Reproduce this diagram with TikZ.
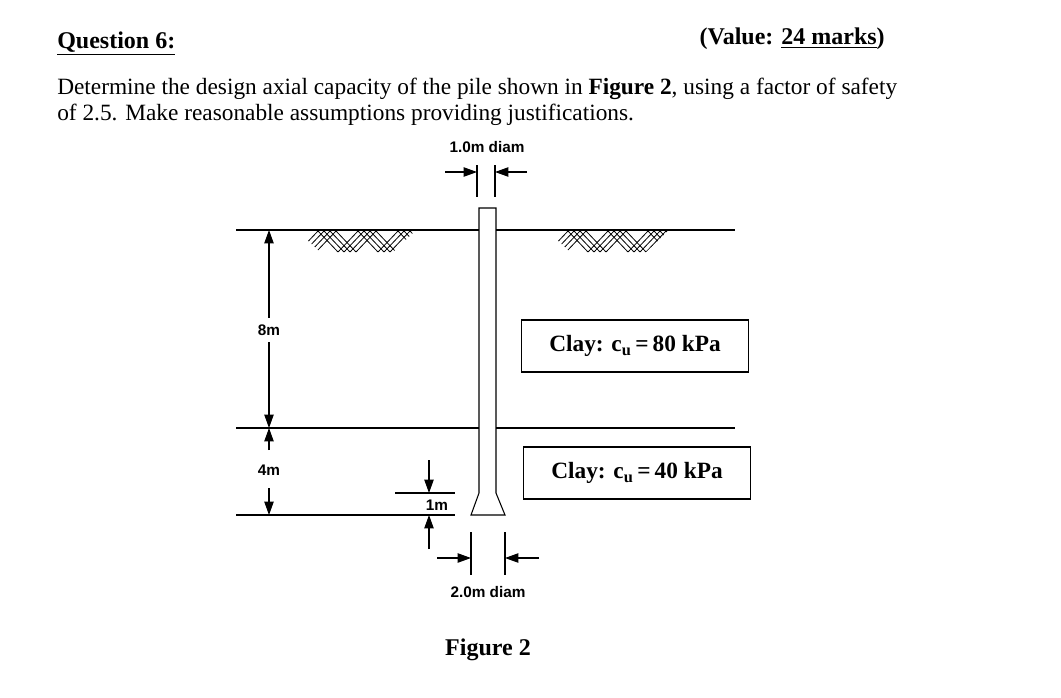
\documentclass[tikz,border=0pt]{standalone}
\usepackage{fontspec}
\setmainfont{Liberation Serif}
\newfontfamily\labelfont{Liberation Sans}
\usetikzlibrary{arrows.meta,positioning}
\tikzset{>=Triangle,
  dim/.style={thick,->,>={Triangle[length=10pt,width=7pt]}},
  soil/.style={line width=1.2pt},
  tick/.style={thick},
  lbl/.style={font=\labelfont\bfseries\fontsize{11.5}{13}\selectfont,inner sep=1pt},
  clay/.style={draw,thick,minimum width=170pt,minimum height=39pt,font=\bfseries\fontsize{17.5}{19}\selectfont},
  hatch/.style={semithick}}
\newcommand{\hatchpatch}[2]{% x start, x end
  \begin{scope}
    \clip (#1,231) -- (#2,231) -- (#2-22,252) -- (#1+22,252) -- cycle;
    \foreach \k in {0,1,...,6}{
      \pgfmathsetmacro{\xa}{#1+\k*20}
      \ifodd\k
        \foreach \j in {0,6,12,18}{\draw[hatch] (\xa+\j,231) -- (\xa+\j+20,252);}
      \else
        \foreach \j in {0,6,12,18}{\draw[hatch] (\xa+\j+20,231) -- (\xa+\j,252);}
      \fi}
  \end{scope}}
\begin{document}
\begin{tikzpicture}[x=0.75pt,y=-0.75pt]
\useasboundingbox (0,0) rectangle (1061,697);

% Header
\node[anchor=west,inner sep=0pt,font=\bfseries\fontsize{18}{20}\selectfont] (q) at (57,43) {\underline{Question 6:}};
\node[anchor=east,inner sep=0pt,font=\bfseries\fontsize{18}{20}\selectfont] (val) at (885,39) {(Value: \underline{24 marks})};
\node[anchor=north west,align=left,inner sep=0pt,font=\fontsize{17.5}{19}\selectfont] (txt) at (57,78)
  {Determine the design axial capacity of the pile shown in \textbf{Figure 2}, using a factor of safety\\ of 2.5. Make reasonable assumptions providing justifications.};

% Ground and layers
\draw[soil] (236,230) -- (479,230);
\draw[soil] (496,230) -- (735,230);
\draw[soil] (236,428) -- (479,428);
\draw[soil] (496,428) -- (735,428);
\draw[soil] (236,515) -- (455,515);
\hatchpatch{298}{415}
\hatchpatch{548}{668}

% Pile
\draw[thick] (479,230) -- (479,208) -- (496,208) -- (496,493) -- (505,515) -- (471,515) -- (479,493) -- cycle;

% 1.0m diam
\draw[tick] (477,165) -- (477,197);
\draw[tick] (495,165) -- (495,197);
\draw[dim] (445,172) -- (477,172);
\draw[dim] (527,172) -- (495,172);
\node[lbl] (d1) at (487,147) {1.0m diam};

% 2.0m diam
\draw[tick] (471,532) -- (471,575);
\draw[tick] (505,532) -- (505,575);
\draw[dim] (437,558) -- (471,558);
\draw[dim] (539,558) -- (505,558);
\node[lbl] (d2) at (488,592) {2.0m diam};

% Layer depths
\node[lbl] (h8) at (269,330) {8m};
\draw[dim] ([yshift=4pt]h8.north) -- (269,230);
\draw[dim] ([yshift=-4pt]h8.south) -- (269,428);
\node[lbl] (h4) at (269,470) {4m};
\draw[dim] (269,450) -- (269,428);
\draw[dim] (269,488) -- (269,515);

% Bell height
\draw[tick] (395,493) -- (455,493);
\node[lbl] (h1) at (437,505) {1m};
\draw[dim] (429,460) -- (429,493);
\draw[dim] (429,549) -- (429,515);

% Soil boxes
\node[clay] (c1) at (635,346) {Clay: c\textsubscript{u}\,=\,80 kPa};
\node[clay] (c2) at (637,473) {Clay: c\textsubscript{u}\,=\,40 kPa};

\node[font=\bfseries\fontsize{18}{20}\selectfont] (fig) at (488,650) {Figure 2};
\end{tikzpicture}
\end{document}
